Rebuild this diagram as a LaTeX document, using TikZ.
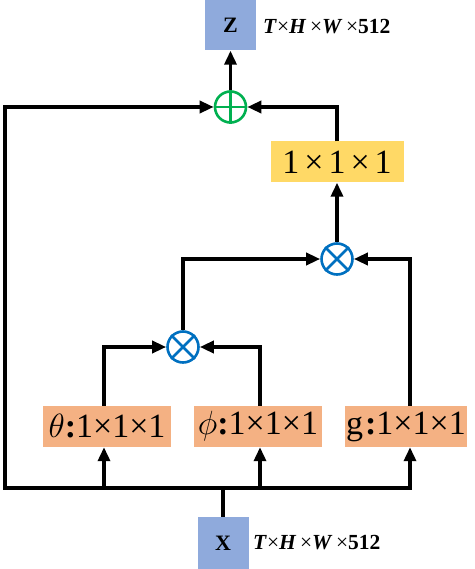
\documentclass[tikz,border=0pt]{standalone}
\usepackage{graphicx}
\usepackage{fontspec}
\setmainfont{Liberation Serif}
\usetikzlibrary{arrows.meta}
\definecolor{inblue}{HTML}{8FAADC}
\definecolor{boxorange}{HTML}{F4B183}
\definecolor{boxyellow}{HTML}{FFD966}
\definecolor{sumgreen}{HTML}{00B050}
\definecolor{mulblue}{HTML}{0070C0}
\tikzset{
  tensor/.style={fill=inblue, inner sep=0pt, minimum width=51pt, minimum height=51pt, font=\fontsize{22}{22}\selectfont\bfseries},
  dimlab/.style={anchor=west, inner sep=0pt, font=\fontsize{21.5}{21.5}\selectfont},
  convbox/.style={inner sep=0pt, minimum height=41pt, font=\fontsize{34}{34}\selectfont},
  opcirc/.style={circle, draw, line width=2.6pt, minimum size=31pt, inner sep=0pt},
  wire/.style={line width=3.4pt},
  arr/.style={wire, -{Triangle[length=14pt,width=12pt]}},
}
\newcommand{\dimtext}{\textbf{\textit{T}}×\textbf{\textit{H}}\,×\textbf{\textit{W}}\,×\textbf{512}}
\newcommand{\wideones}{1\kern5pt×\kern5pt1\kern5pt×\kern5pt1}
\newcommand{\tightones}{1×1×1}
\newcommand{\biggreek}[1]{\scalebox{1.35}{$#1$}}
\begin{document}
\begin{tikzpicture}[x=1pt,y=-1pt]
\useasboundingbox (0,0) rectangle (474,569);
% nodes
\node[tensor] (Z) at (230.5,25) {Z};
\node[dimlab] (Zlab) at (263,27) {\dimtext};
\node[opcirc, draw=sumgreen] (plus) at (230.5,107) {};
\draw[sumgreen, line width=2.6pt] (plus.north) -- (plus.south) (plus.west) -- (plus.east);
\node[convbox, fill=boxyellow, minimum width=133pt] (yel) at (337,162) {\wideones};
\node[opcirc, draw=mulblue] (otop) at (337,259) {};
\draw[mulblue, line width=2.6pt] (otop.north west) -- (otop.south east) (otop.north east) -- (otop.south west);
\node[opcirc, draw=mulblue] (olow) at (183,347) {};
\draw[mulblue, line width=2.6pt] (olow.north west) -- (olow.south east) (olow.north east) -- (olow.south west);
\node[convbox, fill=boxorange, minimum width=128pt] (theta) at (107,426.5) {\biggreek{\theta}\textbf{:}\tightones};
\node[convbox, fill=boxorange, minimum width=128pt] (phi) at (258,426.5) {\biggreek{\phi}\textbf{:}\tightones};
\node[convbox, fill=boxorange, minimum width=122pt] (g) at (406,426.5) {g\kern2pt\textbf{:}\tightones};
\node[tensor, minimum height=52pt] (X) at (223,543) {X};
\node[dimlab] (Xlab) at (253,543) {\dimtext};
% bus coordinates
\coordinate (busL) at (5,488);
\coordinate (busX) at (223,488);
\coordinate (tA) at (104,488);
\coordinate (pA) at (260,488);
\coordinate (gA) at (410,488);
% connectors
\draw[wire] (X.north) -- (busX);
\draw[wire, line cap=rect] (busL) -- (gA);
\draw[arr] (busL) |- (plus.west);
\draw[arr] (tA) -- (tA |- theta.south);
\draw[arr] (pA) -- (pA |- phi.south);
\draw[arr] (gA) -- (gA |- g.south);
\draw[arr] (tA |- theta.north) |- (olow.west);
\draw[arr] (pA |- phi.north) |- (olow.east);
\draw[arr] (olow.north) |- (otop.west);
\draw[arr] (gA |- g.north) |- (otop.east);
\draw[arr] (otop.north) -- (yel.south);
\draw[arr] (yel.north) |- (plus.east);
\draw[arr] (plus.north) -- (Z.south);
\end{tikzpicture}
\end{document}
